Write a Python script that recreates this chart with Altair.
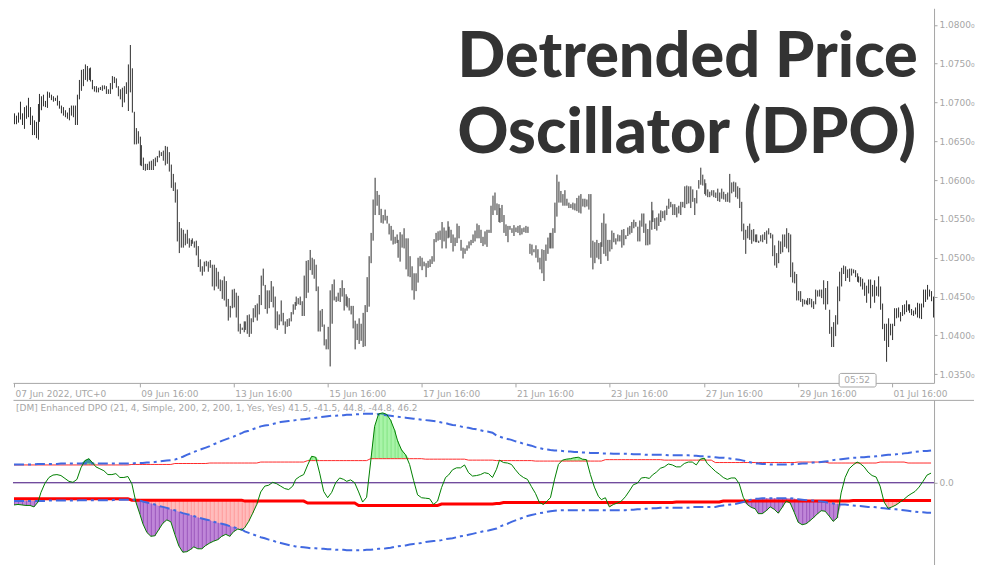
import altair as alt
import pandas as pd

# ---------------- price bars (H1), values in pips above 1.0000 ----------------
highs = [
    686,683,687,701,686,694,696,706,694,683, 677,675,698,711,708,710,702,714,713,710,
    708,706,709,702,696,694,690,687,693,696, 696,696,710,729,742,743,749,747,744,745,
    729,721,721,719,720,722,722,721,717,725, 734,733,731,721,717,719,721,726,749,774,
    744,688,667,663,656,645,629,621,621,624, 625,627,629,631,638,636,638,644,643,636,
    620,608,597,588,546,538,536,531,536,525, 523,525,521,
    522,515,498,489,495,496,495,497,491,491, 487,482,472,471,476,470,447,438,459,460,
    455,451,415,410,418,418,426,427,422,435, 439,441,452,477,486,465,458,458,470,463,
    450,431,427,445,429,418,421,422,430,440, 443,450,448,450,444,477,496,497,510,500,
    498,491,463,432,434,414,395,411,458,466, 472,450,455,461,471,461,453,450,448,438,
    438,419,415,422,415,429,439,475,502,532, 575,603,586,581,
    563,555,562,554,544,541,536,527,530,523, 533,530,538,525,525,502,489,480,480,500,
    502,500,495,493,496,498,502,524,532,534, 535,546,539,535,547,540,536,530,526,544,
    541,523,513,512,516,521,523,530,535,544, 542,536,527,534,536,536,567,580,584,570,
    569,564,568,555,543,541,541,538,542,539, 541,542,538,539,541,540,518,517,511,516,
    511,500,511,510,517,526,532,532,538,571, 607,598,586,582,
    587,576,571,569,571,570,577,580,582,576, 576,575,582,582,522,520,523,519,520,545,
    557,544,523,523,535,532,525,530,529,536, 537,529,539,541,546,549,546,540,548,557,
    557,544,537,548,572,561,551,552,557,561, 560,561,567,576,572,569,569,565,567,572,
    572,592,593,592,592,588,577,587,600,616, 607,601,596,588,585,587,587,584,589,584,
    589,585,582,584,608,597,598,597,592,590, 572,544,536,541,
    544,536,537,530,530,522,529,530,533,535, 538,532,530,516,506,522,521,530,530,538,
    532,530,494,482,479,457,457,447,446,445, 448,448,447,444,459,458,459,459,471,461,
    470,433,411,417,426,463,482,487,490,489, 485,486,486,485,484,480,476,475,473,468,
    464,472,472,465,471,463,476,463,441,415, 415,422,415,415,435,435,436,430,439,440,
    445,440,440,434,432,436,442,441,441,459, 459,465,459,457,450,
]
lows = [
    672,672,674,678,671,666,679,681,671,658, 658,654,652,675,690,695,694,693,706,703,
    701,702,696,692,686,683,681,679,677,683, 681,671,671,704,715,721,729,727,729,727,
    717,714,713,713,716,715,717,711,711,711, 717,725,719,708,704,694,700,711,689,713,
    687,646,646,647,619,618,613,612,613,613, 613,613,618,623,629,631,625,619,621,611,
    590,586,571,521,506,513,513,516,518,513, 515,518,513,
    503,488,482,477,482,489,482,487,463,458, 463,460,457,447,445,437,419,423,435,436,
    423,405,402,407,404,407,402,398,402,417, 423,419,427,439,464,434,428,435,443,436,
    409,407,413,418,413,402,411,412,418,427, 433,438,440,439,425,425,448,455,484,478,
    473,457,405,405,411,387,382,382,360,415, 445,443,444,443,450,432,438,436,432,427,
    409,382,394,389,393,385,386,430,437,493, 522,555,567,555,
    545,544,548,544,530,522,517,518,519,500, 495,513,512,485,476,475,458,446,457,468,
    489,484,489,475,487,488,492,495,520,522, 523,512,521,512,525,526,519,508,515,519,
    525,509,499,505,509,512,516,519,521,525, 525,519,515,517,514,532,532,555,561,555,
    546,545,546,532,528,520,536,532,528,533, 532,529,530,533,532,532,505,503,507,500,
    494,485,480,470,496,505,512,512,512,532, 553,571,571,567,
    567,567,564,564,562,561,560,558,557,566, 565,566,562,500,485,493,500,498,492,514,
    505,502,496,508,511,520,517,521,521,513, 516,524,528,530,532,538,540,521,521,540,
    532,516,516,517,536,546,537,535,541,546, 551,548,555,563,565,555,555,552,557,555,
    565,564,569,570,564,572,555,570,589,594, 593,582,580,578,578,580,578,577,573,572,
    576,575,572,572,571,583,585,578,576,564, 534,523,505,525,
    523,518,521,520,520,519,521,520,523,518, 530,525,502,490,487,493,505,507,514,512,
    507,475,468,467,445,445,443,437,440,440, 439,440,436,434,440,450,450,448,440,433,
    440,402,385,385,399,414,444,463,479,470, 474,469,477,480,475,469,468,463,459,451,
    442,454,435,450,442,451,450,433,408,393, 366,385,400,394,412,422,423,418,425,427,
    430,432,429,426,425,427,423,422,421,436, 443,446,450,444,423,
]

price_ticks = [1.0350, 1.0400, 1.0450, 1.0500, 1.0550, 1.0600, 1.0650, 1.0700, 1.0750, 1.0800]
date_tick_idx = [0, 64, 112, 160, 208, 256, 304, 352, 400, 448]
date_tick_text = ["07 Jun 2022, UTC+0", "09 Jun 16:00", "13 Jun 16:00", "15 Jun 16:00",
                  "17 Jun 16:00", "21 Jun 16:00", "23 Jun 16:00", "27 Jun 16:00",
                  "29 Jun 16:00", "01 Jul 16:00"]

# ---------------- indicator, one sample every 2 bars ----------------
dpo = [
    -46,-45,-46,-47,-47,-50,-40,-20,-1,11, 16,17,15,9,3,1,7,31,46,50,
    43,33,29,25,17,17,19,11,11,13, -2,-40,-65,-85,-103,-111,-110,-97,-84,-77,
    -81,-107,-131,-144,-143,-138,-133,-137,-137,-130, -125,-121,-118,-111,-107,-111,-101,-96,-98,-93,
    -80,-63,-45,-19,-7,-5,1,-2,-7,-12, -14,-7,7,13,17,37,55,53,20,-18,
    -31,-20,0,10,7,3,6,0,-19,-40, -30,43,117,143,145,142,130,109,87,68,
    58,38,5,-25,-31,-32,-33,-45,-38,-10, 11,16,27,31,31,37,21,14,15,17,
    21,19,11,
    28,47,42,41,38,27,17,11,7,-8, -22,-41,-45,-37,-31,6,38,47,49,50,
    52,53,49,48,17,-9,-28,-35,-31,-50, -45,-42,-38,-29,-17,-4,-1,10,11,9,
    16,22,30,33,39,37,33,33,40,43, 43,37,49,51,40,32,24,18,11,7,
    10,10,-2,-30,-45,-51,-54,-64,-64,-58, -50,-55,-63,-51,-38,-42,-61,-82,-87,-85,
    -80,-73,-65,-58,-59,-69,-80,-73,-21,11, 29,37,43,40,33,22,15,12,-7,-40,
    -53,-50,-46,-40,-34,-27,-23,-18,-9,3, 16,20,
]
level_up = [
    37,37,37,37,37,37,37,37,37,37, 37,37,37,37,37,37,37,37,37,37,
    37,37,37,37,37,37,37,37,37,37, 38,38,38,38,38,38,38,38,38,38,
    38,40,40,40,40,40,40,40,40,40, 41,41,41,41,41,41,41,41,41,41,
    41,41,41,43,43,43,43,43,43,43, 43,43,43,43,43,46,46,46,46,46,
    46,46,46,46,46,46,46,46,46,46, 46,50,50,50,50,50,50,50,50,50,
    50,50,50,50,50,49,49,49,49,49, 49,49,49,49,49,49,47,47,47,47,
    47,47,47,
    46,46,46,46,46,46,46,46,46,46, 45,45,45,45,45,45,45,45,45,45,
    45,45,45,45,45,45,45,45,48,48, 48,48,48,48,48,48,48,48,48,48,
    48,48,48,47,47,47,47,47,47,47, 47,47,47,47,47,47,42,42,42,42,
    42,42,42,42,42,42,42,42,42,42, 42,42,42,42,42,42,42,43,43,43,
    43,43,43,43,43,41,41,41,41,41, 41,41,41,41,41,41,41,41,43,43,
    43,43,43,43,43,41,41,41,41,41, 41,41,
]
level_dn = [
    -33,-33,-33,-33,-33,-33,-33,-33,-33,-33, -33,-33,-33,-33,-33,-33,-33,-33,-33,-33,
    -33,-33,-33,-33,-33,-33,-33,-33,-33,-33, -36,-36,-36,-36,-36,-36,-36,-36,-36,-36,
    -36,-36,-36,-36,-36,-36,-36,-36,-36,-36, -36,-36,-36,-36,-36,-36,-36,-36,-36,-38,
    -38,-38,-38,-38,-38,-38,-38,-38,-38,-38, -38,-38,-38,-38,-38,-42,-42,-42,-42,-42,
    -42,-42,-42,-42,-42,-42,-42,-42,-47,-47, -47,-47,-47,-47,-47,-47,-47,-47,-47,-47,
    -47,-47,-47,-47,-47,-47,-47,-47,-47,-44, -44,-44,-44,-44,-44,-44,-44,-44,-44,-44,
    -44,-44,-44,
    -43,-43,-41,-41,-41,-41,-41,-41,-41,-41, -41,-41,-41,-41,-41,-41,-41,-41,-41,-41,
    -41,-41,-41,-41,-41,-41,-41,-41,-41,-41, -41,-41,-41,-41,-41,-41,-41,-41,-41,-41,
    -41,-41,-41,-41,-41,-41,-40,-40,-40,-40, -40,-40,-40,-40,-40,-40,-40,-40,-38,-38,
    -38,-38,-38,-38,-38,-38,-38,-38,-38,-38, -38,-38,-38,-38,-38,-38,-38,-38,-38,-38,
    -38,-38,-38,-38,-38,-38,-38,-38,-38,-38, -38,-37,-37,-37,-37,-37,-37,-37,-37,-37,
    -37,-37,-37,-37,-37,-37,-37,-37,-37,-37, -37,-37,
]
band_up = [
    38,38,38,38,38,38,39,39,39,39, 39,39,40,40,40,40,40,40,40,40,
    40,40,40,40,40,40,40,40,40,40, 40,41,41,41,42,42,43,44,45,46,
    47,48,51,54,58,61,64,67,70,73, 76,80,83,87,90,93,96,100,103,106,
    108,111,114,117,119,120,122,124,126,127, 128,129,130,131,132,133,134,135,136,137,
    138,139,139,140,140,141,141,142,142,143, 143,143,143,142,141,140,139,138,137,136,
    135,134,133,132,131,130,129,128,127,125, 124,122,120,119,117,115,114,112,111,109,
    107,106,104,
    98,96,93,91,89,86,84,81,79,77, 74,72,70,69,68,67,67,66,65,65,
    64,64,63,63,62,62,62,61,61,61, 60,60,60,60,60,59,59,59,58,58,
    58,58,58,58,57,57,57,57,57,57, 56,56,55,55,54,54,53,52,52,51,
    50,49,48,46,44,42,40,40,39,39, 38,38,38,38,38,38,39,39,40,40,
    41,42,42,43,44,45,47,48,49,50, 51,52,52,53,53,54,54,55,56,57,
    58,58,59,60,61,62,63,64,65,66, 66,67,
]
band_dn = [
    -38,-38,-38,-38,-38,-38,-38,-38,-38,-37, -37,-37,-37,-37,-37,-37,-37,-36,-36,-36,
    -36,-36,-36,-36,-36,-36,-35,-35,-35,-35, -35,-35,-37,-39,-41,-43,-45,-48,-50,-52,
    -55,-57,-60,-63,-65,-67,-69,-72,-74,-76, -78,-81,-83,-85,-87,-90,-92,-95,-97,-101,
    -104,-107,-110,-113,-115,-118,-120,-123,-125,-127, -129,-131,-132,-133,-134,-135,-136,-136,-137,-137,
    -138,-138,-139,-139,-139,-140,-140,-140,-140,-140, -139,-139,-138,-137,-137,-136,-135,-133,-132,-131,
    -130,-128,-127,-126,-125,-123,-122,-121,-120,-119, -117,-116,-115,-113,-111,-110,-108,-106,-104,-102,
    -100,-99,-97,
    -95,-91,-88,-85,-81,-78,-75,-72,-69,-67, -65,-63,-62,-60,-59,-58,-57,-57,-57,-57,
    -57,-57,-57,-57,-57,-57,-57,-57,-57,-57, -57,-57,-57,-57,-56,-56,-55,-55,-54,-54,
    -53,-53,-52,-52,-52,-52,-52,-52,-52,-52, -50,-50,-50,-50,-50,-50,-50,-48,-47,-46,
    -45,-44,-42,-40,-37,-35,-33,-33,-32,-32, -32,-32,-32,-32,-32,-32,-33,-34,-35,-36,
    -37,-37,-38,-39,-40,-42,-43,-44,-45,-45, -46,-47,-48,-48,-49,-50,-50,-51,-52,-53,
    -54,-55,-55,-56,-57,-58,-59,-60,-61,-61, -62,-62,
]
header_text = "[DM] Enhanced DPO (21, 4, Simple, 200, 2, 200, 1, Yes, Yes) 41.5, -41.5, 44.8, -44.8, 46.2"
chart_title = ["Detrended Price", "Oscillator (DPO)"]

# ---------------- tables ----------------
bars = pd.DataFrame({
    "i": list(range(len(highs))),
    "hi": [1 + h / 10000 for h in highs],
    "lo": [1 + l / 10000 for l in lows],
})
ind = pd.DataFrame({
    "i": list(range(0, 2 * len(dpo), 2)),
    "dpo": dpo, "lu": level_up, "ld": level_dn, "bu": band_up, "bd": band_dn,
})
ind["pink_lo"] = ind[["dpo", "ld"]].min(axis=1)
ind["purple_lo"] = ind[["dpo", "bd"]].min(axis=1)
ind["green_hi"] = ind[["dpo", "lu"]].max(axis=1)
ind["teal_hi"] = ind[["dpo", "bu"]].max(axis=1)

W = 922
H1 = 375
H2 = 165
GRAY = "#a6a6a6"
FONT = "DejaVu Sans"

x_scale = alt.Scale(domain=[-0.5, len(highs) - 0.5], nice=False, zero=False, round=True)

date_expr = "".join(f"datum.value == {i} ? '{t}' : " for i, t in zip(date_tick_idx, date_tick_text)) + "''"

x_axis = alt.Axis(values=date_tick_idx, labelExpr=date_expr, orient="bottom", title=None,
                  labelAlign="left", labelOffset=1, labelBaseline="top", labelPadding=3,
                  tickSize=4, tickColor=GRAY, domainColor=GRAY, labelColor=GRAY,
                  labelFont=FONT, labelFontSize=9, grid=False, labelOverlap=False,
                  minExtent=17, maxExtent=17)
p_scale = alt.Scale(domain=[1.03388, 1.08213], nice=False, zero=False)
p_axis = alt.Axis(values=price_ticks, orient="right", title=None,
                  labelExpr="format(datum.value, '.4f') + '\u2080'",
                  tickSize=3, tickColor=GRAY, domainColor=GRAY, labelColor=GRAY,
                  labelFont=FONT, labelFontSize=9, labelPadding=2, grid=False)

price = alt.Chart(bars).mark_rule(color="#2e2e2e", strokeWidth=1, xOffset=0.5).encode(
    x=alt.X("i:Q", scale=x_scale, axis=x_axis),
    y=alt.Y("lo:Q", scale=p_scale, axis=p_axis),
    y2="hi:Q",
)

# invisible guard that fixes the left edge of the drawing on a whole pixel
guard = alt.Chart(pd.DataFrame({"v": [0]})).mark_rule(color="white", strokeWidth=2).encode(
    x=alt.value(-1), y=alt.value(1), y2=alt.value(3))

title1 = alt.Chart(pd.DataFrame({"t": [chart_title[0]]})).mark_text(
    align="left", baseline="alphabetic", font="Lato", fontWeight=900, fontSize=63, color="#333333"
).encode(x=alt.value(445), y=alt.value(69), text="t:N")
title2 = alt.Chart(pd.DataFrame({"t": [chart_title[1]]})).mark_text(
    align="left", baseline="alphabetic", font="Lato", fontWeight=900, fontSize=63, color="#333333"
).encode(x=alt.value(445), y=alt.value(145), text="t:N")

box = pd.DataFrame({"i0": [421], "i1": [440], "p0": [1.03335], "p1": [1.0351], "ic": [430.5], "pc": [1.03422], "t": ["05:52"]})
box_rect = alt.Chart(box).mark_rect(fill="white", stroke=GRAY, strokeWidth=1, cornerRadius=2).encode(
    x="i0:Q", x2="i1:Q", y="p0:Q", y2="p1:Q")
box_text = alt.Chart(box).mark_text(font=FONT, fontSize=9, color=GRAY, baseline="middle").encode(
    x="ic:Q", y="pc:Q", text="t:N")

top = alt.layer(guard, price, box_rect, box_text, title1, title2).properties(width=W, height=H1)

# ---------------- indicator panel ----------------
i_scale = alt.Scale(domain=[-170, 172], nice=False, zero=False)
i_axis = alt.Axis(values=[0], labelExpr="'0.0'", orient="right", title=None,
                  tickSize=3, tickColor=GRAY, domainColor=GRAY, labelColor=GRAY,
                  labelFont=FONT, labelFontSize=9, labelPadding=2, grid=False)
X = alt.X("i:Q", scale=x_scale, axis=None)


def Y(f):
    return alt.Y(f"{f}:Q", scale=i_scale, axis=i_axis)


base = alt.Chart(ind)
pink = base.mark_area(color="#ffbcbc").encode(x=X, y=Y("ld"), y2="pink_lo:Q")
pink_h = base.mark_rule(color="#ff9c9c", strokeWidth=1, xOffset=0.5).encode(x=X, y=Y("ld"), y2="pink_lo:Q")
purple = base.mark_area(color="#bf86d8").encode(x=X, y=Y("bd"), y2="purple_lo:Q")
purple_h = base.mark_rule(color="#9c58bd", strokeWidth=1, xOffset=0.5).encode(x=X, y=Y("bd"), y2="purple_lo:Q")
green = base.mark_area(color="#a8f4a8").encode(x=X, y=Y("lu"), y2="green_hi:Q")
green_h = base.mark_rule(color="#84e484", strokeWidth=1, xOffset=0.5).encode(x=X, y=Y("lu"), y2="green_hi:Q")
teal = base.mark_area(color="#3f98a0").encode(x=X, y=Y("bu"), y2="teal_hi:Q")
zero = alt.Chart(pd.DataFrame({"v": [0]})).mark_rule(color="#3c0a78", strokeWidth=1).encode(y=Y("v"))
lu_line = base.mark_line(color="#ff2a2a", strokeWidth=1).encode(x=X, y=Y("lu"))
ld_line = base.mark_line(color="#ff0000", strokeWidth=3).encode(x=X, y=Y("ld"))
bu_line = base.mark_line(color="#4169e1", strokeWidth=2, strokeDash=[10, 4, 3, 4]).encode(x=X, y=Y("bu"))
bd_line = base.mark_line(color="#4169e1", strokeWidth=2, strokeDash=[10, 4, 3, 4]).encode(x=X, y=Y("bd"))
dpo_line = base.mark_line(color="#008000", strokeWidth=1).encode(x=X, y=Y("dpo"))
header = alt.Chart(pd.DataFrame({"t": [header_text]})).mark_text(
    align="left", baseline="middle", font=FONT, fontSize=9, color=GRAY
).encode(x=alt.value(3), y=alt.value(8), text="t:N")
sep = alt.Chart(pd.DataFrame({"v": [0]})).mark_rule(color=GRAY, strokeWidth=1).encode(
    y=alt.value(0.5), x=alt.value(0.5), x2=alt.value(W + 40))

bottom = alt.layer(pink, pink_h, purple, purple_h, green, green_h, teal, zero, lu_line, ld_line,
                   bu_line, bd_line, dpo_line, header, sep).properties(width=W, height=H2)

chart = alt.vconcat(top, bottom, spacing=0).properties(
    padding={"left": 0, "top": 0, "right": 0, "bottom": 0}
).configure_view(stroke=None)

chart.save("out.html", embed_options={"renderer": "svg", "actions": False})
